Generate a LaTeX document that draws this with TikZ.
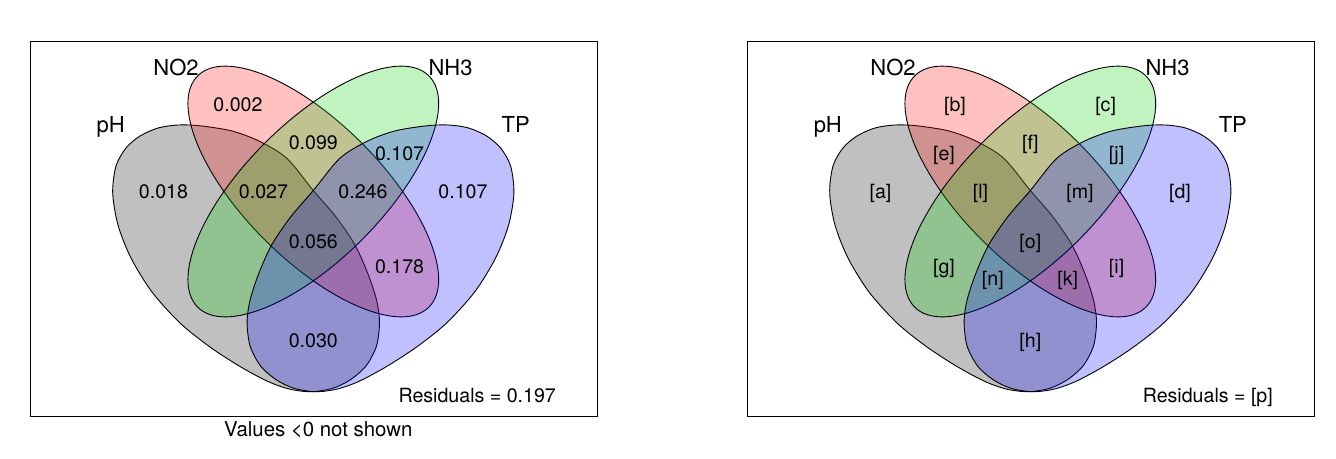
\documentclass[tikz,border=0pt]{standalone}
\usepackage{fontspec}
\setmainfont{TeX Gyre Heros}
\definecolor{vgreen}{RGB}{0,205,0}
\tikzset{
  vshape/.style={draw=black, line width=0.9pt, fill opacity=0.247},
  setname/.style={font=\fontsize{22}{22}\selectfont, anchor=base, inner sep=0pt},
  val/.style={font=\fontsize{19.6}{20}\selectfont, anchor=base, inner sep=0pt},
  frame/.style={draw=black, line width=0.9pt}
}
\newcommand\vennShapes{%
  \filldraw[vshape, fill=black] plot[smooth cycle] coordinates {
    (112.7,193) (116,166) (126,148) (140,136) (158,128) (178,125) (200,125.8)
    (232,131) (260,141.5) (287,158.5) (313.3,190.5) (336,217) (355,245)
    (368,274) (376.5,300) (379.5,322) (376.5,346) (366,366) (350,380)
    (332,388.5) (311,391.7) (290,389.2) (268,381.5) (240,366.5) (210,347)
    (180,323) (152,292) (131,258) (118,225)};
  \filldraw[vshape, fill=red, shift={(313.3,191.5)}, rotate=-45] (0,0) ellipse [x radius=163.5, y radius=68.5];
  \filldraw[vshape, fill=vgreen, shift={(313.3,191.5)}, rotate=45] (0,0) ellipse [x radius=163.5, y radius=68.5];
  \filldraw[vshape, fill=blue] plot[smooth cycle] coordinates {
    (513.9,193) (510.6,166) (500.6,148) (486.6,136) (468.6,128) (448.6,125) (426.6,125.8)
    (394.6,131) (366.6,141.5) (339.6,158.5) (313.3,190.5) (290.6,217) (271.6,245)
    (258.6,274) (250.1,300) (247.1,322) (250.1,346) (260.6,366) (276.6,380)
    (294.6,388.5) (315.6,391.7) (336.6,389.2) (358.6,381.5) (386.6,366.5) (416.6,347)
    (446.6,323) (474.6,292) (495.6,258) (508.6,225)};
  \draw[frame] (30,41) rectangle (597,416);
}
\begin{document}
\begin{tikzpicture}[x=1pt,y=-1pt]
\useasboundingbox (0,0) rectangle (1336,458);
% left panel
\vennShapes
\node[setname] (lpH) at (110.8,132.3) {pH};
\node[setname] (lNO2) at (176,75.7) {NO2};
\node[setname] (lNH3) at (450.6,75.7) {NH3};
\node[setname] (lTP) at (515.8,132.3) {TP};
\node[val] (va) at (163.5,198.3) {0.018};
\node[val] (vb) at (238,111) {0.002};
\node[val] (vd) at (463,198.3) {0.107};
\node[val] (vf) at (313.3,149.3) {0.099};
\node[val] (vj) at (399.6,160.7) {0.107};
\node[val] (vl) at (263.5,198.3) {0.027};
\node[val] (vm) at (363,198.3) {0.246};
\node[val] (vo) at (313.3,248.3) {0.056};
\node[val] (vi) at (399.6,273.3) {0.178};
\node[val] (vh) at (313.3,347) {0.030};
\node[val, anchor=base east] (vres) at (556,402.3) {Residuals = 0.197};
\node[val, font=\fontsize{20.4}{21}\selectfont] (vnote) at (318.3,436.7) {Values <0 not shown};
% right panel
\begin{scope}[xshift=717pt]
\vennShapes
\node[setname] (rpH) at (110.8,132.3) {pH};
\node[setname] (rNO2) at (176,75.7) {NO2};
\node[setname] (rNH3) at (450.6,75.7) {NH3};
\node[setname] (rTP) at (515.8,132.3) {TP};
\node[val] (ra) at (163.5,198.3) {[a]};
\node[val] (rb) at (238,111) {[b]};
\node[val] (rc) at (388.6,111) {[c]};
\node[val] (rd) at (463,198.3) {[d]};
\node[val] (re) at (227,160.7) {[e]};
\node[val] (rf) at (313.3,149.3) {[f]};
\node[val] (rg) at (227,273.3) {[g]};
\node[val] (rh) at (313.3,347) {[h]};
\node[val] (ri) at (399.6,273.3) {[i]};
\node[val] (rj) at (399.6,160.7) {[j]};
\node[val] (rk) at (350.8,285) {[k]};
\node[val] (rl) at (263.5,198.3) {[l]};
\node[val] (rm) at (363,198.3) {[m]};
\node[val] (rn) at (275.8,285) {[n]};
\node[val] (ro) at (313.3,248.3) {[o]};
\node[val, anchor=base east] (rres) at (556,402.3) {Residuals = [p]};
\end{scope}
\end{tikzpicture}
\end{document}
